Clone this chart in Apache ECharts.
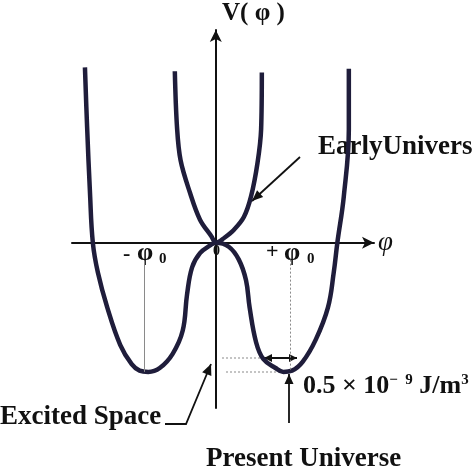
<!DOCTYPE html>
<html>
<head>
<meta charset="utf-8">
<script src="https://cdn.jsdelivr.net/npm/echarts@6/dist/echarts.min.js"></script>
<style>
  html, body { margin: 0; padding: 0; background: #fff; }
  #chart { width: 474px; height: 474px; }
</style>
</head>
<body>
<div id="chart"></div>
<script>
// phi in units of phi0, V in units of the well depth
const wellPhi = [-1.82, -1.79, -1.75, -1.71, -1.64, -1.51, -1.33, -1.17, -1.06, -0.94, -0.78, -0.60, -0.46, -0.40, -0.33, -0.22, -0.08, 0,
  0.18, 0.32, 0.42, 0.47, 0.56, 0.66, 0.83, 0.94, 1.06, 1.21, 1.39, 1.56, 1.64, 1.69, 1.78, 1.85, 1.85]
const wellV = [1.36, 0.90, 0.39, 0, -0.23, -0.50, -0.79, -0.94, -0.99, -1.00, -0.97, -0.86, -0.68, -0.40, -0.19, -0.08, -0.02, 0,
  -0.03, -0.13, -0.29, -0.50, -0.77, -0.90, -0.97, -1.00, -0.99, -0.92, -0.75, -0.50, -0.23, 0, 0.36, 0.88, 1.35]

const earlyPhi = [-0.57, -0.54, -0.49, -0.36, -0.22, -0.06, 0, 0.12, 0.25, 0.39, 0.49, 0.58, 0.63, 0.64]
const earlyV = [1.33, 0.90, 0.64, 0.39, 0.18, 0.05, 0, 0.04, 0.10, 0.20, 0.36, 0.62, 0.88, 1.32]

const ink = '#1f1d3b'
const serif = '"Liberation Serif", "DejaVu Serif", serif'

const zip = (xs, ys) => xs.map((x, i) => [x, ys[i]])

// simple straight arrow with a filled head at (x2, y2)
const arrowHead = (x1, y1, x2, y2, len, w) => {
  const a = Math.atan2(y2 - y1, x2 - x1)
  const bx = x2 - len * Math.cos(a)
  const by = y2 - len * Math.sin(a)
  return {
    type: 'polygon',
    shape: { points: [[x2, y2], [bx + w * Math.sin(a), by - w * Math.cos(a)], [bx - w * Math.sin(a), by + w * Math.cos(a)]] },
    style: { fill: '#111' }
  }
}
const arrow = (pts, len = 10, w = 4, lw = 1.8, both = false) => {
  const n = pts.length
  const els = [{ type: 'polyline', shape: { points: pts }, style: { stroke: '#111', lineWidth: lw, fill: null } }]
  els.push(arrowHead(pts[n - 2][0], pts[n - 2][1], pts[n - 1][0], pts[n - 1][1], len, w))
  if (both) els.push(arrowHead(pts[1][0], pts[1][1], pts[0][0], pts[0][1], len, w))
  return els
}
const label = (text, x, y, size, extra) => ({
  type: 'text',
  style: Object.assign({
    text: text, x: x, y: y, fill: '#111',
    font: 'bold ' + size + 'px ' + serif,
    textAlign: 'left', textVerticalAlign: 'middle', align: 'left', verticalAlign: 'middle'
  }, extra || {})
})
const dotted = (x1, y1, x2, y2, dash) => ({
  type: 'line',
  shape: { x1: x1, y1: y1, x2: x2, y2: y2 },
  style: { stroke: '#8a8a8a', lineWidth: 1, lineDash: dash || [2, 2] }
})

const chart = echarts.init(document.getElementById('chart'))

const option = {
  backgroundColor: '#fff',
  animation: false,
  grid: { left: 72, right: 100, top: 30, bottom: 66 },
  xAxis: {
    type: 'value', min: -2, max: 2.2,
    axisLine: { onZero: true, lineStyle: { color: '#111', width: 2 }, symbol: ['none', 'arrow'], symbolSize: [9, 12] },
    axisTick: { show: false }, axisLabel: { show: false }, splitLine: { show: false }
  },
  yAxis: {
    type: 'value', min: -1.28, max: 1.65,
    axisLine: { onZero: true, lineStyle: { color: '#111', width: 2 }, symbol: ['none', 'arrow'], symbolSize: [9, 12] },
    axisTick: { show: false }, axisLabel: { show: false }, splitLine: { show: false }
  },
  series: [
    {
      name: 'Present',
      type: 'line',
      data: zip(wellPhi, wellV),
      smooth: 0.4,
      showSymbol: false,
      lineStyle: { color: ink, width: 4.5 },
      z: 3,
      markLine: {
        silent: true,
        symbol: ['none', 'none'],
        label: { show: false },
        lineStyle: { color: '#8a8a8a', width: 1, type: 'solid' },
        data: [
          [{ coord: [-1, -0.14] }, { coord: [-1, -1.0] }],
          [{ coord: [1.04, -0.13] }, { coord: [1.04, -0.99], lineStyle: { type: [2, 2] } }]
        ]
      }
    },
    {
      name: 'Early',
      type: 'line',
      data: zip(earlyPhi, earlyV),
      smooth: 0.35,
      showSymbol: false,
      lineStyle: { color: ink, width: 4.5 },
      z: 3
    }
  ],
  graphic: [
    label('V( φ )', 222, 14, 25),
    label('φ', 378, 243, 27, { font: 'italic 27px ' + serif }),
    label('-', 123, 254, 22),
    label('φ', 137, 253, 26),
    label('0', 159, 259, 15),
    label('+', 266, 252, 22),
    label('φ', 284, 253, 26),
    label('0', 307, 259, 15),
    label('0', 213, 251, 14),
    label('EarlyUnivers', 318, 147, 27),
    label('Excited Space', 0, 417, 27),
    label('Present Universe', 206, 459, 27),
    {
      type: 'text',
      style: {
        x: 303, y: 386, fill: '#111',
        textAlign: 'left', textVerticalAlign: 'middle', align: 'left', verticalAlign: 'middle',
        text: '{a|0.5 × 10}{s|−  9}{a| J/m}{s|3}',
        rich: {
          a: { font: 'bold 26px ' + serif, fill: '#111' },
          s: { font: 'bold 15px ' + serif, fill: '#111', padding: [0, 0, 12, 0] }
        }
      }
    },
    dotted(222, 358, 262, 358),
    dotted(226, 372, 290, 372),
    ...arrow([[300, 157], [252, 201]], 11, 4.5),
    ...arrow([[165, 424], [186, 424], [211, 364]], 11, 5),
    ...arrow([[289, 423], [289, 374]], 10, 4.5),
    ...arrow([[264, 358], [297, 358]], 8, 4, 1.8, true)
  ]
}

chart.setOption(option)
</script>
</body>
</html>
